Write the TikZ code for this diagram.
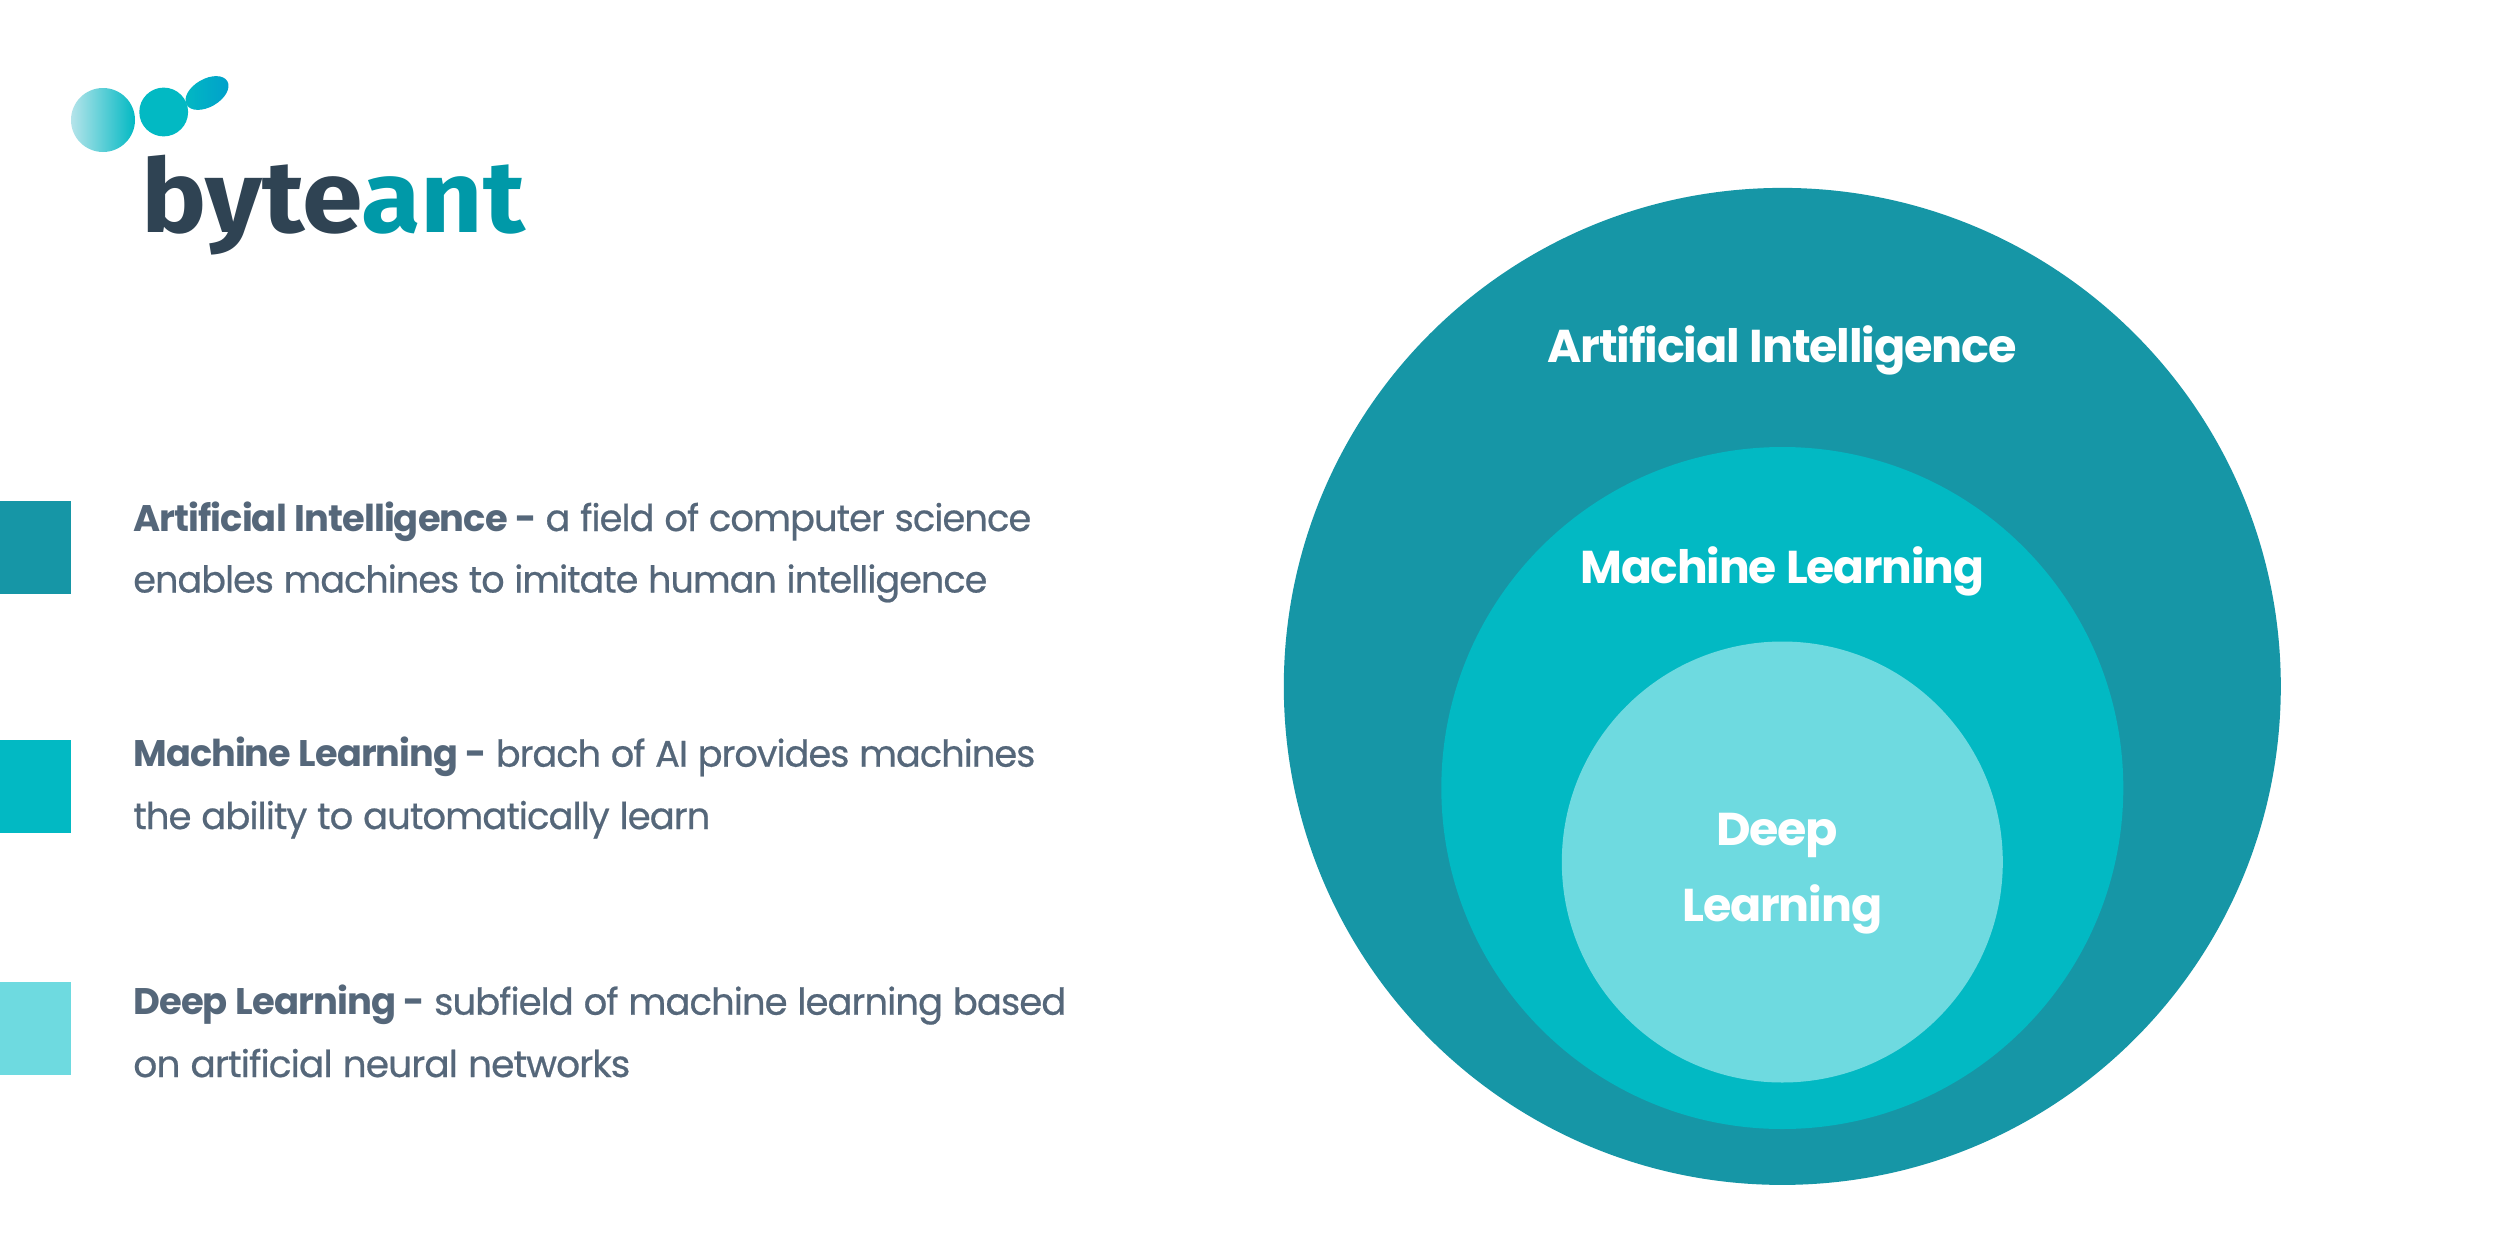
\documentclass[tikz,border=0pt]{standalone}
\usepackage{fontspec}
\usepackage{graphicx}
\setmainfont{Poppins}[Ligatures=NoCommon,WordSpace=1.1,LetterSpace=-2.5,UprightFeatures={FakeBold=0.6},BoldFeatures={FakeBold=0}]
\newfontfamily\logofont{Fira Sans}
\definecolor{aicol}{HTML}{1696A6}
\definecolor{mlcol}{HTML}{02B9C3}
\definecolor{dlcol}{HTML}{6EDAE0}
\definecolor{txtcol}{HTML}{55677A}
\definecolor{logodark}{HTML}{2F4353}
\definecolor{logoteal}{HTML}{0099A8}
\definecolor{logoblue}{HTML}{009FCB}
\definecolor{logopale}{HTML}{B5E4EA}
\tikzset{
  swatch/.style={draw=none,minimum width=71pt,minimum height=93pt,inner sep=0pt,anchor=north west},
  ring/.style={circle,draw=none,inner sep=0pt},
  legendline/.style={anchor=base west,inner sep=0pt,outer sep=0pt,text=txtcol,font=\fontsize{37}{37}\selectfont},
  ringlabel/.style={anchor=base,inner sep=0pt,outer sep=0pt,text=white,font=\bfseries\fontsize{46}{46}\selectfont},
  logotext/.style={anchor=base west,inner sep=0pt,outer sep=0pt,font=\logofont\bfseries\fontsize{102}{102}\selectfont}
}
\newcommand{\fitw}[2]{\resizebox{#1pt}{\height}{#2}}
\begin{document}
\begin{tikzpicture}[x=1pt,y=-1pt]
\useasboundingbox (0,0) rectangle (2494,1247);
\fill[white] (0,0) rectangle (2494,1247);
% logo
\shade[left color=logopale,right color=mlcol,shading angle=90] (103,120) circle (32);
\fill[mlcol] (163.7,112) circle (24.4);
\shade[left color=mlcol,right color=logoblue,rotate around={30:(207,93)}] (207,93) ellipse (23.5 and 14);
\node[logotext,text=logodark] (logoa) at (141,232.4) {\fitw{222}{byte}};
\node[logotext,text=logoteal] (logob) at (361,232.4) {\fitw{164}{ant}};
% swatches
\node[swatch,fill=aicol] (s1) at (0,501) {};
\node[swatch,fill=mlcol] (s2) at (0,739.5) {};
\node[swatch,fill=dlcol] (s3) at (0,981.5) {};
% legend
\node[legendline] (l1) at (133.3,531) {\fitw{898}{\textbf{Artificial Intelligence -} a field of computer science}};
\node[legendline] (l2) at (133.3,592.5) {\fitw{854}{enables machines to imitate human intelligence}};
\node[legendline] (m1) at (133.3,766.7) {\fitw{902}{\textbf{Machine Learning -} brach of AI provides machines}};
\node[legendline] (m2) at (133.3,829) {\fitw{577}{the ability to automatically learn}};
\node[legendline] (d1) at (133.3,1014.7) {\fitw{933}{\textbf{Deep Learning -} subfield of machine learning based}};
\node[legendline] (d2) at (133.3,1077) {\fitw{497}{on artificial neural networks}};
% circles
\node[ring,fill=aicol,minimum size=997pt] (c1) at (1782.3,686.4) {};
\node[ring,fill=mlcol,minimum size=682pt] (c2) at (1782.3,788) {};
\node[ring,fill=dlcol,minimum size=441pt] (c3) at (1782.3,862) {};
\node[ringlabel] (t1) at (1782.3,362) {\fitw{469}{Artificial Intelligence}};
\node[ringlabel] (t2) at (1782.3,583) {\fitw{404}{Machine Learning}};
\node[ringlabel] (t3) at (1777,845) {\fitw{122}{Deep}};
\node[ringlabel] (t4) at (1782.3,921) {\fitw{200}{Learning}};
\end{tikzpicture}
\end{document}
